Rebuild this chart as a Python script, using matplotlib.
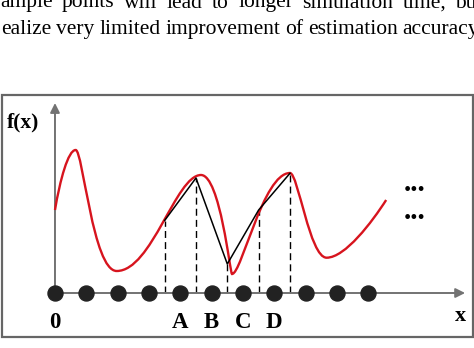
import numpy as np
import matplotlib.pyplot as plt
from matplotlib.path import Path
from matplotlib.patches import PathPatch, Rectangle

# red f(x) curve: cubic bezier nodes (start, then ctrl, ctrl, end per segment)
curve_x = [0.00, 0.16, 0.42, 0.66, 0.89, 1.21, 1.97, 3.09, 3.86, 4.66,
           5.27, 5.59, 5.65, 5.96, 6.64, 7.50, 7.76, 8.13, 8.67, 9.26,
           10.12, 10.57]
curve_y = [8.30, 11.30, 14.30, 14.30, 14.30, 2.20, 2.20, 2.20, 11.80, 11.80,
           11.80, 1.90, 1.90, 1.90, 12.00, 12.00, 12.00, 3.53, 3.53, 3.53,
           7.10, 9.30]

# sample points joined by the black polyline
samp_x = [3.5, 4.5, 5.5, 6.5, 7.5]
samp_y = [7.25, 11.5, 2.9, 8.3, 11.97]

# grid points on the x axis
grid_x = np.arange(11)
grid_labels = {0: '0', 4: 'A', 5: 'B', 6: 'C', 7: 'D'}

# body text lines above the figure (cut by the page crop)
line1 = 'ample points will lead to longer simulation time, but'
line2 = 'ealize very limited improvement of estimation accuracy'

W, H = 474, 348
fig = plt.figure(figsize=(W / 100, H / 100), dpi=100)
ax = fig.add_axes([0, 0, 1, 1])
ax.set_xlim(-1.755, 13.374)
ax.set_ylim(-5.5, 29.3)
ax.axis('off')

serif = 'Liberation Serif'
gray = '#737373'
renderer = fig.canvas.get_renderer()


def justified(text, x0, x1, y, size):
    # place the words one by one so the line fills x0..x1 (pixels)
    words = text.split()
    arts = [fig.text(0, 1 - y / H, w, family=serif, fontsize=size,
                     va='baseline', ha='left') for w in words]
    widths = [a.get_window_extent(renderer).width for a in arts]
    gap = (x1 - x0 - sum(widths)) / (len(words) - 1)
    x = x0
    for a, w in zip(arts, widths):
        a.set_x(x / W)
        x += w + gap


justified(line1, 0, 483, 7.5, 15.5)
justified(line2, 1, 479, 34, 15.5)

# frame of the figure
ax.add_patch(Rectangle((-1.69, -4.4), 15.03, 24.2, fill=False,
                       edgecolor='#666666', lw=1.6))

# axes with arrows
ax.annotate('', xy=(0, 19.0), xytext=(0, 0),
            arrowprops=dict(arrowstyle='-|>', color=gray, lw=1.4,
                            mutation_scale=14, shrinkA=0, shrinkB=0))
ax.annotate('', xy=(13.09, 0), xytext=(0, 0),
            arrowprops=dict(arrowstyle='-|>', color=gray, lw=1.4,
                            mutation_scale=14, shrinkA=0, shrinkB=0))

# dashed drops
for sx, sy in zip(samp_x, samp_y):
    ax.plot([sx, sx], [0, sy], color='black', lw=1.0, dashes=(5, 3), zorder=2)

# red curve
codes = [Path.MOVETO] + [Path.CURVE4] * (len(curve_x) - 1)
path = Path(np.column_stack([curve_x, curve_y]), codes)
ax.add_patch(PathPatch(path, facecolor='none', edgecolor='#d7141e', lw=1.7, zorder=3))

# black polyline
ax.plot(samp_x, samp_y, color='black', lw=1.1, zorder=4)

# grid dots
ax.plot(grid_x, np.zeros_like(grid_x), 'o', color='#222222', ms=10.8, zorder=5)

for gx, lab in grid_labels.items():
    ax.text(gx, -2.9, lab, family=serif, fontweight='bold', fontsize=16.5,
            ha='center', va='center')
ax.text(12.93, -2.3, 'x', family=serif, fontweight='bold', fontsize=16,
        ha='center', va='center')
ax.text(-1.02, 17.1, 'f(x)', family=serif, fontweight='bold', fontsize=15.5,
        ha='center', va='center')
ax.text(11.49, 10.2, '...', family=serif, fontweight='bold', fontsize=21,
        ha='center', va='baseline')
ax.text(11.49, 7.35, '...', family=serif, fontweight='bold', fontsize=21,
        ha='center', va='baseline')

fig.savefig('out.png', dpi=100)
